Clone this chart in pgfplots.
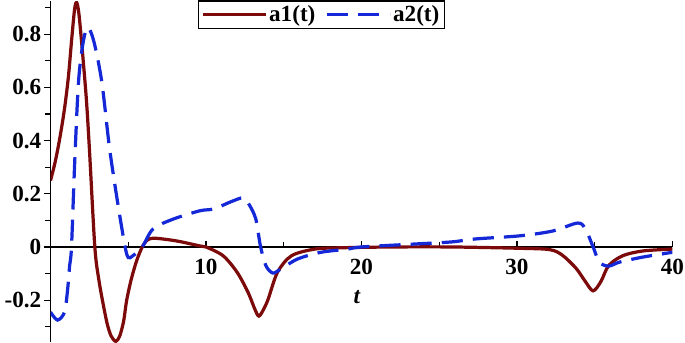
\documentclass[border=0pt]{standalone}
\usepackage{fontspec}
\setmainfont{Liberation Serif}
\usepackage{pgfplots}
\pgfplotsset{compat=1.18}
\definecolor{aone}{RGB}{125,10,10}
\definecolor{atwo}{RGB}{20,40,215}
\begin{document}
\begin{tikzpicture}
\begin{axis}[
  scale only axis,
  width=618pt, height=339pt,
  xmin=0, xmax=40, ymin=-0.358, ymax=0.925,
  axis x line=middle, axis y line=left,
  axis line style={line width=1.6pt,-},
  xtick={10,20,30,40}, minor xtick={5,15,25,35},
  ytick={-0.2,0,0.2,0.4,0.6,0.8},
  minor ytick={-0.3,-0.1,0.1,0.3,0.5,0.7,0.9},
  yticklabels={-0.2,0,0.2,0.4,0.6,0.8},
  xticklabels={10,20,30,40},
  major tick length=6pt, minor tick length=4pt,
  tick style={line width=1.2pt,black},
  x tick style={yshift=3pt},
  y tick style={xshift=-3pt},
  xticklabel style={font=\fontsize{23}{27}\selectfont\bfseries, inner sep=1pt, yshift=-8pt},
  yticklabel style={font=\fontsize{23}{27}\selectfont\bfseries, inner sep=0pt, xshift=-6pt,
    text width=41pt, align=right},
  /pgf/number format/assume math mode=true,
  clip=true,
  legend columns=2,
  legend style={at={(0.4357,1.003)}, anchor=north, draw=black, line width=1.6pt,
    font=\fontsize{23}{27}\selectfont\bfseries, inner xsep=3pt, inner ysep=3pt,
    /tikz/every even column/.append style={column sep=8pt}},
  legend image code/.code={\draw[#1] (0pt,0pt) -- (62pt,0pt);},
]
\addplot[aone, line width=3.2pt, smooth, tension=0.5] coordinates {
(0,0.25) (0.3,0.32) (0.6,0.41) (0.9,0.52) (1.15,0.64) (1.36,0.78) (1.55,0.895) (1.68,0.92)
(1.82,0.88) (2.0,0.77) (2.3,0.56) (2.5,0.37) (2.85,0.0) (3.1,-0.12) (3.37,-0.21) (3.65,-0.29)
(3.9,-0.335) (4.2,-0.355) (4.45,-0.335) (4.7,-0.28) (4.9,-0.20) (5.2,-0.12) (5.55,-0.05)
(5.9,0.0) (6.2,0.025) (6.6,0.033) (7.5,0.028)
(8.35,0.02) (9.6,0.004) (10,0.0) (11.1,-0.033) (12.0,-0.095) (12.7,-0.17) (13.15,-0.235)
(13.4,-0.26) (13.7,-0.235) (14.0,-0.196) (14.6,-0.095) (15.5,-0.033) (17,-0.008)
(18.7,-0.003) (22,0) (25.8,0) (30.2,-0.005) (32.1,-0.01) (32.9,-0.03) (33.8,-0.08)
(34.4,-0.13) (34.9,-0.165) (35.4,-0.13) (35.9,-0.07) (36.8,-0.033) (38.1,-0.015) (40,-0.008)
};
\addlegendentry{a1(t)}
\addplot[atwo, line width=3.2pt, dash pattern=on 21pt off 10pt, smooth, tension=0.5] coordinates {
(0,-0.245) (0.45,-0.275) (0.9,-0.245) (1.1,-0.16) (1.23,-0.07) (1.35,0.0) (1.55,0.31)
(1.8,0.62) (2.1,0.77) (2.4,0.826) (2.8,0.77) (3.3,0.62) (3.8,0.37) (4.35,0.155)
(4.8,0.0) (5.0,-0.04) (5.3,-0.033) (5.9,0.0) (6.6,0.068) (7.9,0.105) (9.6,0.136)
(10.5,0.143) (11.6,0.17) (12.4,0.185) (12.75,0.162) (13.2,0.106) (13.5,0.004)
(13.85,-0.07) (14.3,-0.098) (14.8,-0.083) (15.9,-0.045) (17.4,-0.02) (19.1,-0.008)
(20,0.0) (23.4,0.011) (25.8,0.019) (27.3,0.03) (30.2,0.042) (32.3,0.06) (33.9,0.09)
(34.4,0.068) (34.9,0.0) (35.3,-0.057) (35.9,-0.072) (36.6,-0.057) (38.1,-0.038) (40,-0.02)
};
\addlegendentry{a2(t)}
\node[font=\fontsize{23}{27}\selectfont\bfseries\itshape] at (axis cs:19.7,-0.19) {t};
\end{axis}
\end{tikzpicture}
\end{document}
